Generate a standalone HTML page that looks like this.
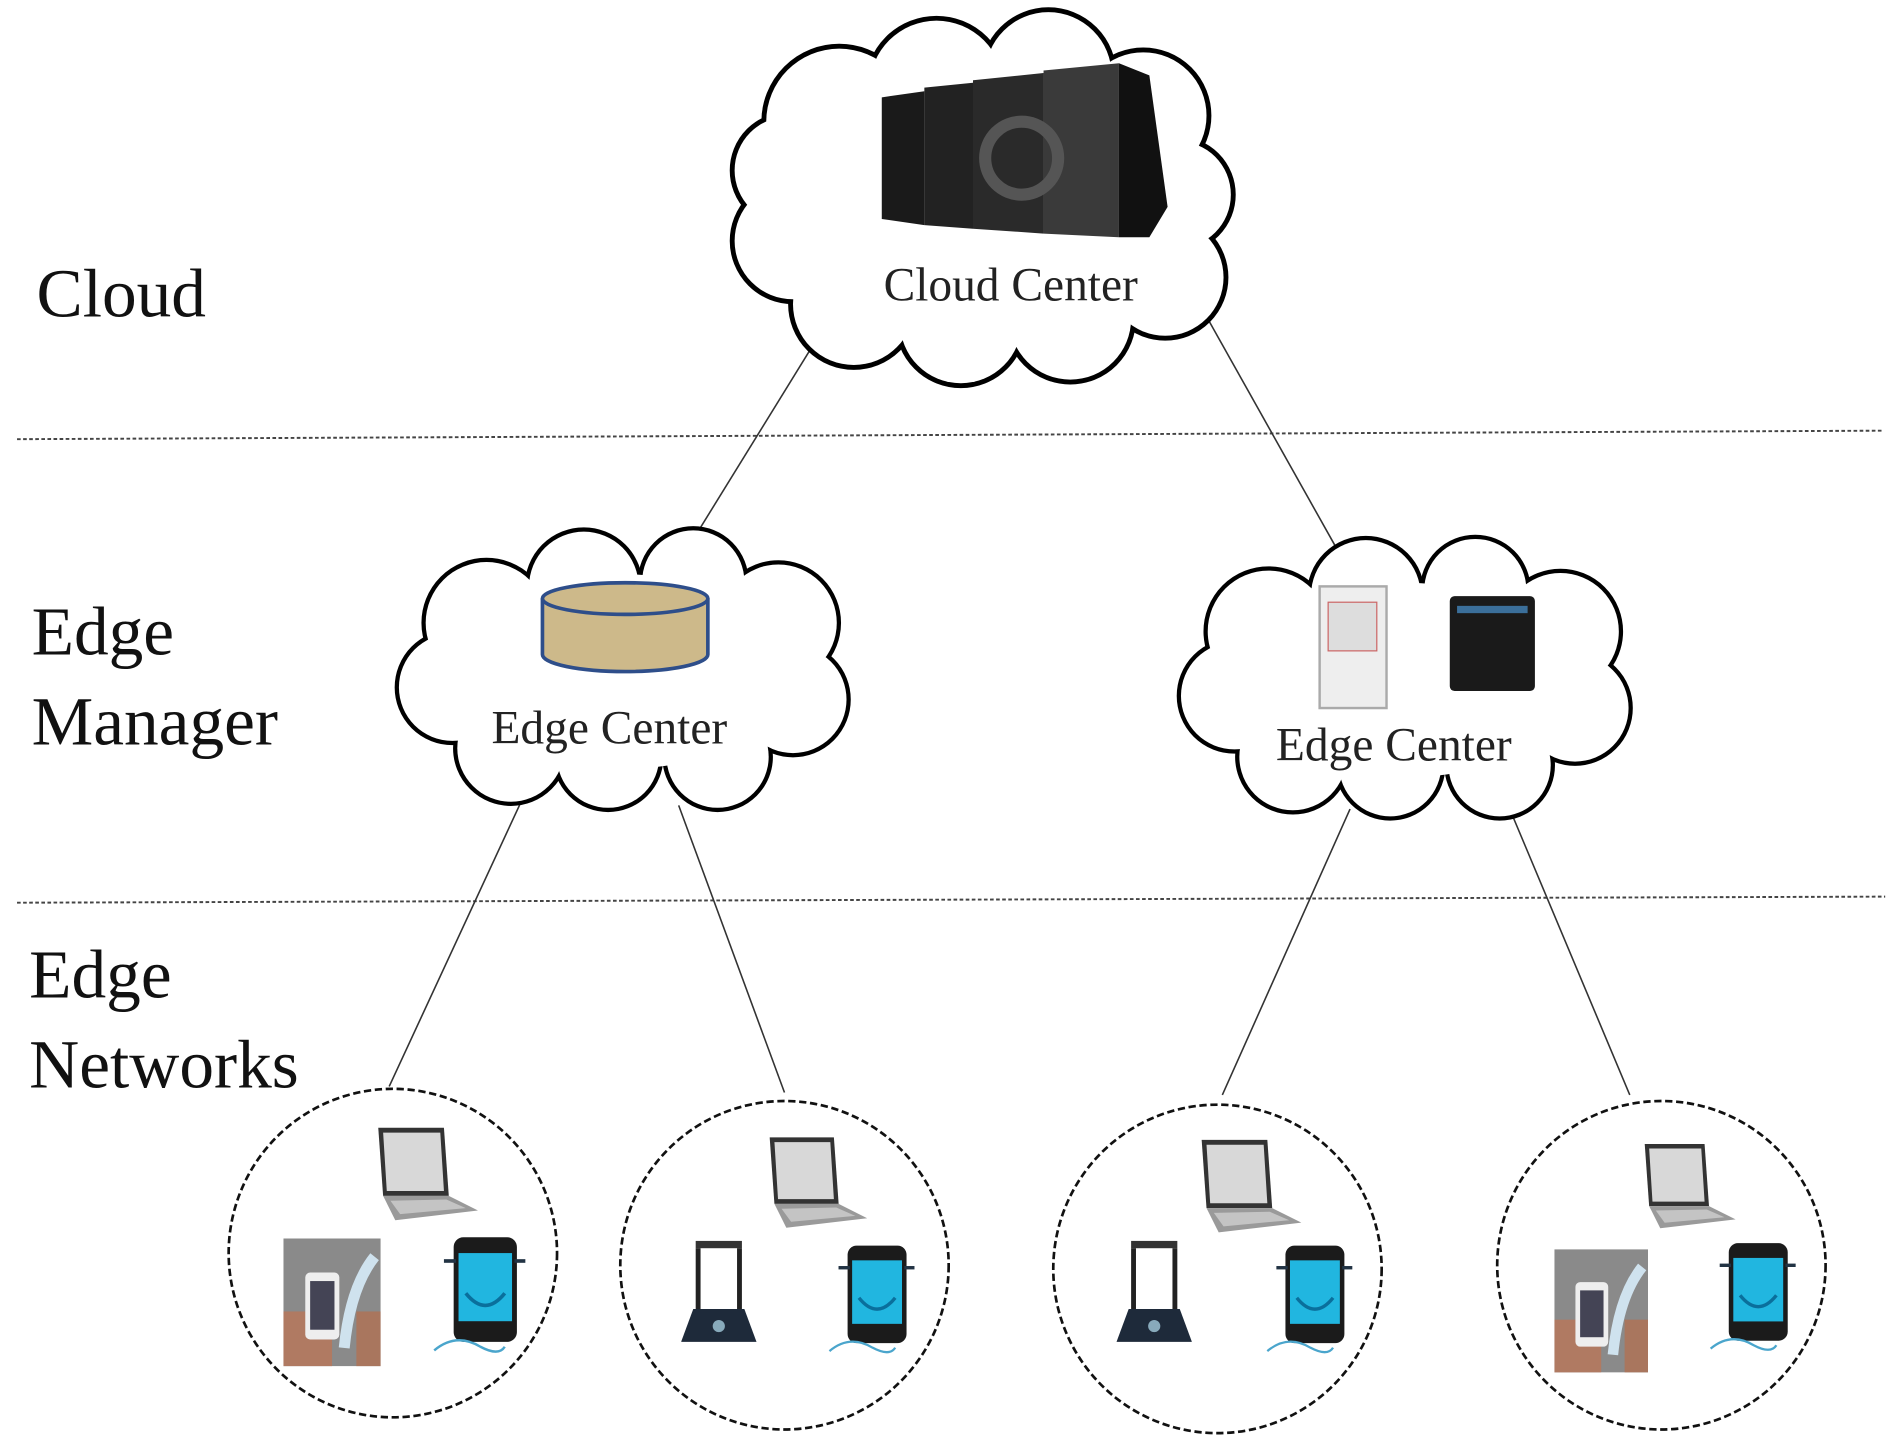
<!DOCTYPE html>
<html><head><meta charset="utf-8"><style>html,body{margin:0;padding:0;background:#fff}svg{display:block}</style></head>
<body>
<svg width="1901" height="1438" viewBox="0 0 1563 1182" preserveAspectRatio="none" xmlns="http://www.w3.org/2000/svg">
<defs>
<symbol id="laptop" viewBox="0 0 90 80">
<polygon points="8,2 62,2 66,58 12,58" fill="#333"/>
<polygon points="12,6 59,6 62,54 15,54" fill="#d8d8d8"/>
<polygon points="12,58 66,58 90,70 22,78" fill="#9a9a9a"/>
<polygon points="18,62 64,61 80,68 26,73" fill="#c4c4c4"/>
</symbol>
<symbol id="phone" viewBox="0 0 77 103">
<rect x="18" y="2" width="52" height="86" rx="8" fill="#1b1b1b"/>
<rect x="22" y="15" width="44" height="56" fill="#21b6e0"/>
<path d="M28 48 Q44 68 60 48" stroke="#0a6f9c" stroke-width="3" fill="none"/>
<rect x="10" y="20" width="10" height="3" fill="#234"/><rect x="68" y="20" width="9" height="3" fill="#234"/>
<path d="M2 95 Q20 80 40 92 Q55 100 60 92" stroke="#4aa5cc" stroke-width="2" fill="none"/>
</symbol>
<symbol id="photo" viewBox="0 0 80 105">
<rect width="80" height="105" fill="#8a8a8a"/>
<rect x="0" y="60" width="40" height="45" fill="#b07a62"/>
<rect x="18" y="28" width="28" height="55" rx="4" fill="#eee"/>
<rect x="22" y="35" width="20" height="40" fill="#445"/>
<path d="M50 90 Q55 40 75 15" stroke="#cfe2ee" stroke-width="9" fill="none"/>
<rect x="60" y="60" width="20" height="45" fill="#a9765e"/>
</symbol>
<symbol id="scanner" viewBox="0 0 62 87">
<rect x="12" y="2" width="38" height="6" fill="#333"/>
<rect x="12" y="8" width="4" height="50" fill="#222"/><rect x="46" y="8" width="4" height="50" fill="#222"/>
<polygon points="10,58 52,58 62,85 0,85" fill="#1e2a3a"/>
<circle cx="31" cy="72" r="5" fill="#8ab"/>
</symbol>
</defs>

<line x1="14" y1="361" x2="1548" y2="354" stroke="#444" stroke-width="1.6" stroke-dasharray="3,2"/>
<line x1="14" y1="742" x2="1550" y2="737" stroke="#444" stroke-width="1.6" stroke-dasharray="3,2"/>

<g stroke="#333" stroke-width="1.3">
<line x1="672" y1="278" x2="572" y2="440"/>
<line x1="993" y1="262" x2="1103" y2="458"/>
<line x1="428" y1="660" x2="320" y2="893"/>
<line x1="558" y1="662" x2="645" y2="898"/>
<line x1="1110" y1="665" x2="1005" y2="900"/>
<line x1="1235" y1="650" x2="1340" y2="900"/>
</g>

<g stroke="#000" stroke-width="8" fill="#000">
<circle cx="690" cy="100" r="60"/><circle cx="770" cy="72" r="55"/><circle cx="862" cy="62" r="52"/><circle cx="940" cy="95" r="52"/><circle cx="968" cy="160" r="44"/><circle cx="958" cy="228" r="48"/><circle cx="880" cy="262" r="50"/><circle cx="790" cy="265" r="50"/><circle cx="702" cy="250" r="50"/><circle cx="652" cy="198" r="48"/><circle cx="648" cy="140" r="44"/>
</g>
<g fill="#fff">
<circle cx="690" cy="100" r="60"/><circle cx="770" cy="72" r="55"/><circle cx="862" cy="62" r="52"/><circle cx="940" cy="95" r="52"/><circle cx="968" cy="160" r="44"/><circle cx="958" cy="228" r="48"/><circle cx="880" cy="262" r="50"/><circle cx="790" cy="265" r="50"/><circle cx="702" cy="250" r="50"/><circle cx="652" cy="198" r="48"/><circle cx="648" cy="140" r="44"/><ellipse cx="805" cy="165" rx="150" ry="105"/>
</g>
<polygon points="725,80 760,75 760,185 725,180" fill="#1a1a1a"/>
<polygon points="760,72 800,68 800,188 760,185" fill="#222"/>
<polygon points="800,66 858,60 858,192 800,188" fill="#2a2a2a"/>
<polygon points="858,58 920,52 920,195 858,192" fill="#3a3a3a"/>
<polygon points="920,52 945,62 960,170 945,195 920,195" fill="#111"/>
<circle cx="840" cy="130" r="30" fill="none" stroke="#555" stroke-width="10"/>
<text x="831" y="247" font-family="Liberation Serif, serif" font-size="39" text-anchor="middle" fill="#222">Cloud Center</text>

<g stroke="#000" stroke-width="7" fill="#000">
<circle cx="400" cy="512" r="50"/><circle cx="480" cy="482" r="45"/><circle cx="570" cy="478" r="42"/><circle cx="640" cy="512" r="48"/><circle cx="652" cy="575" r="44"/><circle cx="590" cy="622" r="42"/><circle cx="500" cy="622" r="42"/><circle cx="420" cy="615" r="44"/><circle cx="372" cy="565" r="44"/>
</g>
<g fill="#fff">
<circle cx="400" cy="512" r="50"/><circle cx="480" cy="482" r="45"/><circle cx="570" cy="478" r="42"/><circle cx="640" cy="512" r="48"/><circle cx="652" cy="575" r="44"/><circle cx="590" cy="622" r="42"/><circle cx="500" cy="622" r="42"/><circle cx="420" cy="615" r="44"/><circle cx="372" cy="565" r="44"/><ellipse cx="512" cy="552" rx="140" ry="80"/>
</g>
<path d="M446 492 L446 538 A68 14 0 0 0 582 538 L582 492" fill="#cdb98a" stroke="#2e4e8a" stroke-width="3"/>
<ellipse cx="514" cy="492" rx="68" ry="13" fill="#cdb98a" stroke="#2e4e8a" stroke-width="3"/>
<text x="501" y="611" font-family="Liberation Serif, serif" font-size="39" text-anchor="middle" fill="#222">Edge Center</text>

<g transform="translate(643,7)">
<g stroke="#000" stroke-width="7" fill="#000">
<circle cx="400" cy="512" r="50"/><circle cx="480" cy="482" r="45"/><circle cx="570" cy="478" r="42"/><circle cx="640" cy="512" r="48"/><circle cx="652" cy="575" r="44"/><circle cx="590" cy="622" r="42"/><circle cx="500" cy="622" r="42"/><circle cx="420" cy="615" r="44"/><circle cx="372" cy="565" r="44"/>
</g>
<g fill="#fff">
<circle cx="400" cy="512" r="50"/><circle cx="480" cy="482" r="45"/><circle cx="570" cy="478" r="42"/><circle cx="640" cy="512" r="48"/><circle cx="652" cy="575" r="44"/><circle cx="590" cy="622" r="42"/><circle cx="500" cy="622" r="42"/><circle cx="420" cy="615" r="44"/><circle cx="372" cy="565" r="44"/><ellipse cx="512" cy="552" rx="140" ry="80"/>
</g>
</g>
<rect x="1085" y="482" width="55" height="100" fill="#eee" stroke="#aaa" stroke-width="2"/>
<rect x="1092" y="495" width="40" height="40" fill="#ddd" stroke="#c66" stroke-width="1"/>
<rect x="1192" y="490" width="70" height="78" rx="4" fill="#1a1a1a"/>
<rect x="1198" y="498" width="58" height="6" fill="#3b6f9a"/>
<text x="1146" y="625" font-family="Liberation Serif, serif" font-size="39" text-anchor="middle" fill="#222">Edge Center</text>

<g font-family="Liberation Serif, serif" font-size="57" fill="#111">
<text x="30" y="260">Cloud</text>
<text x="26" y="538">Edge</text>
<text x="26" y="612">Manager</text>
<text x="24" y="820">Edge</text>
<text x="24" y="894">Networks</text>
</g>

<g fill="none" stroke="#111" stroke-width="2.2" stroke-dasharray="6,3">
<circle cx="323" cy="1030" r="135"/>
<circle cx="645" cy="1040" r="135"/>
<circle cx="1001" cy="1043" r="135"/>
<circle cx="1366" cy="1040" r="135"/>
</g>

<use href="#laptop" x="303" y="925" width="90" height="80"/>
<use href="#photo" x="233" y="1018" width="80" height="105"/>
<use href="#phone" x="355" y="1015" width="77" height="103"/>

<use href="#laptop" x="625" y="932" width="88" height="80"/>
<use href="#scanner" x="560" y="1018" width="62" height="87"/>
<use href="#phone" x="680" y="1022" width="72" height="96"/>

<use href="#laptop" x="980" y="935" width="90" height="80"/>
<use href="#scanner" x="918" y="1018" width="62" height="87"/>
<use href="#phone" x="1040" y="1022" width="72" height="96"/>

<use href="#laptop" x="1345" y="935" width="82" height="80"/>
<use href="#photo" x="1278" y="1025" width="77" height="105"/>
<use href="#phone" x="1403" y="1020" width="75" height="96"/>
</svg>
</body></html>
